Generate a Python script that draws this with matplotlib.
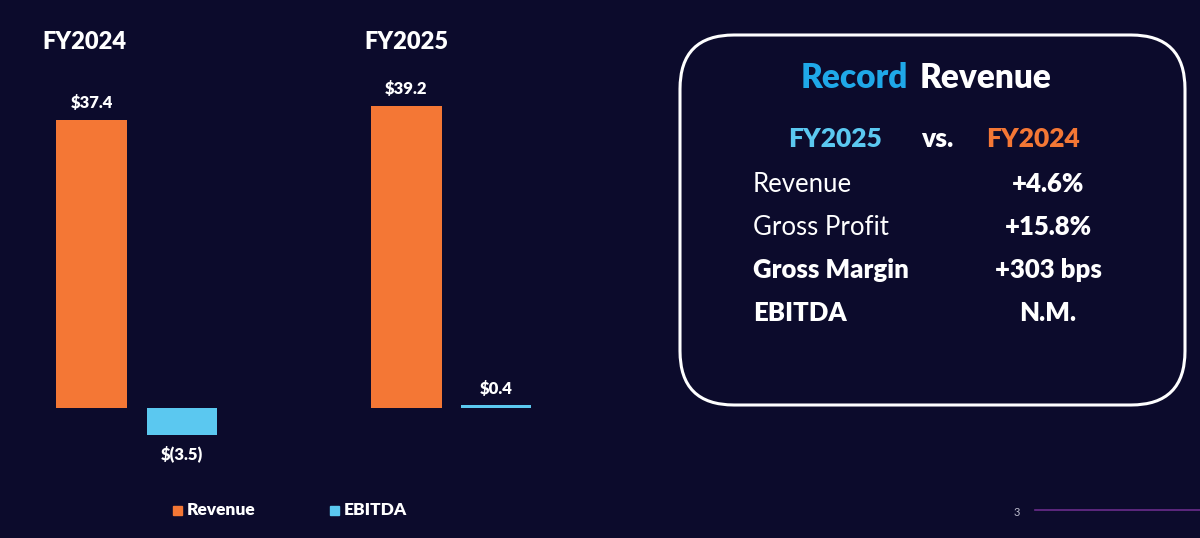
import matplotlib.pyplot as plt
from matplotlib.patches import FancyBboxPatch, Rectangle
import numpy as np

BG = '#0c0b2c'
ORANGE = '#f47735'
BLUE = '#5bc8f0'
FONT = 'Lato'
plt.rcParams['font.family'] = [FONT, 'DejaVu Sans']

W, H = 1200, 538
PX = 7.7  # pixels per $M

# ================================================
# Data
# ================================================
years = ['FY2024', 'FY2025']
revenue = [37.4, 39.2]
ebitda = [-3.5, 0.4]
rev_x = [91.5, 406]
ebit_x = [182, 496]

def money(v):
    return f'$({abs(v):.1f})' if v < 0 else f'${v:.1f}'

fig = plt.figure(figsize=(W / 100, H / 100), dpi=100, facecolor=BG)

# axes in pixel units: x = px from left, y = $M with zero at px 408 from top
ax = fig.add_axes([0, 0, 1, 1])
ax.set_facecolor(BG)
ax.set_xlim(0, W)
ax.set_ylim(-130 / PX, 408 / PX)
ax.axis('off')

ax.bar(rev_x, revenue, width=71, color=ORANGE)
ax.bar(ebit_x, ebitda, width=70, color=BLUE)

for x, v in zip(rev_x, revenue):
    ax.text(x, v + 1.2, money(v), color='white', ha='center', va='bottom',
            fontsize=12, fontweight='heavy')
for x, v in zip(ebit_x, ebitda):
    if v < 0:
        ax.text(x, v - 1.4, money(v), color='white', ha='center', va='top',
                fontsize=12, fontweight='heavy')
    else:
        ax.text(x, v + 1.0, money(v), color='white', ha='center', va='bottom',
                fontsize=12, fontweight='heavy')

# figure pixel coords helper
def ftxt(x, y, s, **kw):
    fig.text(x / W, 1 - y / H, s, **kw)

ftxt(84, 42, 'FY2024', color='white', ha='center', va='center', fontsize=17, fontweight='heavy')
ftxt(406, 42, 'FY2025', color='white', ha='center', va='center', fontsize=17, fontweight='heavy')

# legend
for x, lab, c in [(178, 'Revenue', ORANGE), (335, 'EBITDA', BLUE)]:
    fig.patches.append(Rectangle(((x - 5) / W, 1 - 515 / H), 9 / W, 9 / H,
                                 transform=fig.transFigure, color=c))
    ftxt(x + 9, 510, lab, color='white', ha='left', va='center', fontsize=12.5, fontweight='heavy')

# page number + line
ftxt(1017, 512, '3', color='#bbbbcc', ha='center', va='center', fontsize=8)
fig.add_artist(plt.Line2D([1035 / W, 1], [1 - 510 / H] * 2, color='#6a2c8c', lw=1.2))

# summary box
box = FancyBboxPatch((680 / W, 1 - 405 / H), 505 / W, 370 / H,
                     boxstyle='round,pad=0,rounding_size=0.045',
                     transform=fig.transFigure, fc='none', ec='white', lw=2.2,
                     mutation_aspect=W / H)
fig.patches.append(box)

ftxt(908, 78, 'Record', color='#1fa8e8', ha='right', va='center', fontsize=24, fontweight='heavy')
ftxt(920, 78, 'Revenue', color='white', ha='left', va='center', fontsize=24, fontweight='heavy')
ftxt(835, 139, 'FY2025', color='#5bc8f0', ha='center', va='center', fontsize=19, fontweight='heavy')
ftxt(937, 139, 'vs.', color='white', ha='center', va='center', fontsize=19, fontweight='heavy')
ftxt(1033, 139, 'FY2024', color=ORANGE, ha='center', va='center', fontsize=19, fontweight='heavy')

rows = [('Revenue', '+4.6%', 'normal'),
        ('Gross Profit', '+15.8%', 'normal'),
        ('Gross Margin', '+303 bps', 'heavy'),
        ('EBITDA', 'N.M.', 'heavy')]
for i, (lab, val, w) in enumerate(rows):
    y = 184 + i * 43
    ftxt(753, y, lab, color='white', ha='left', va='center', fontsize=18.5, fontweight=w)
    ftxt(1048, y, val, color='white', ha='center', va='center', fontsize=18.5, fontweight='heavy')

fig.savefig('out.png', dpi=100, facecolor=BG)
